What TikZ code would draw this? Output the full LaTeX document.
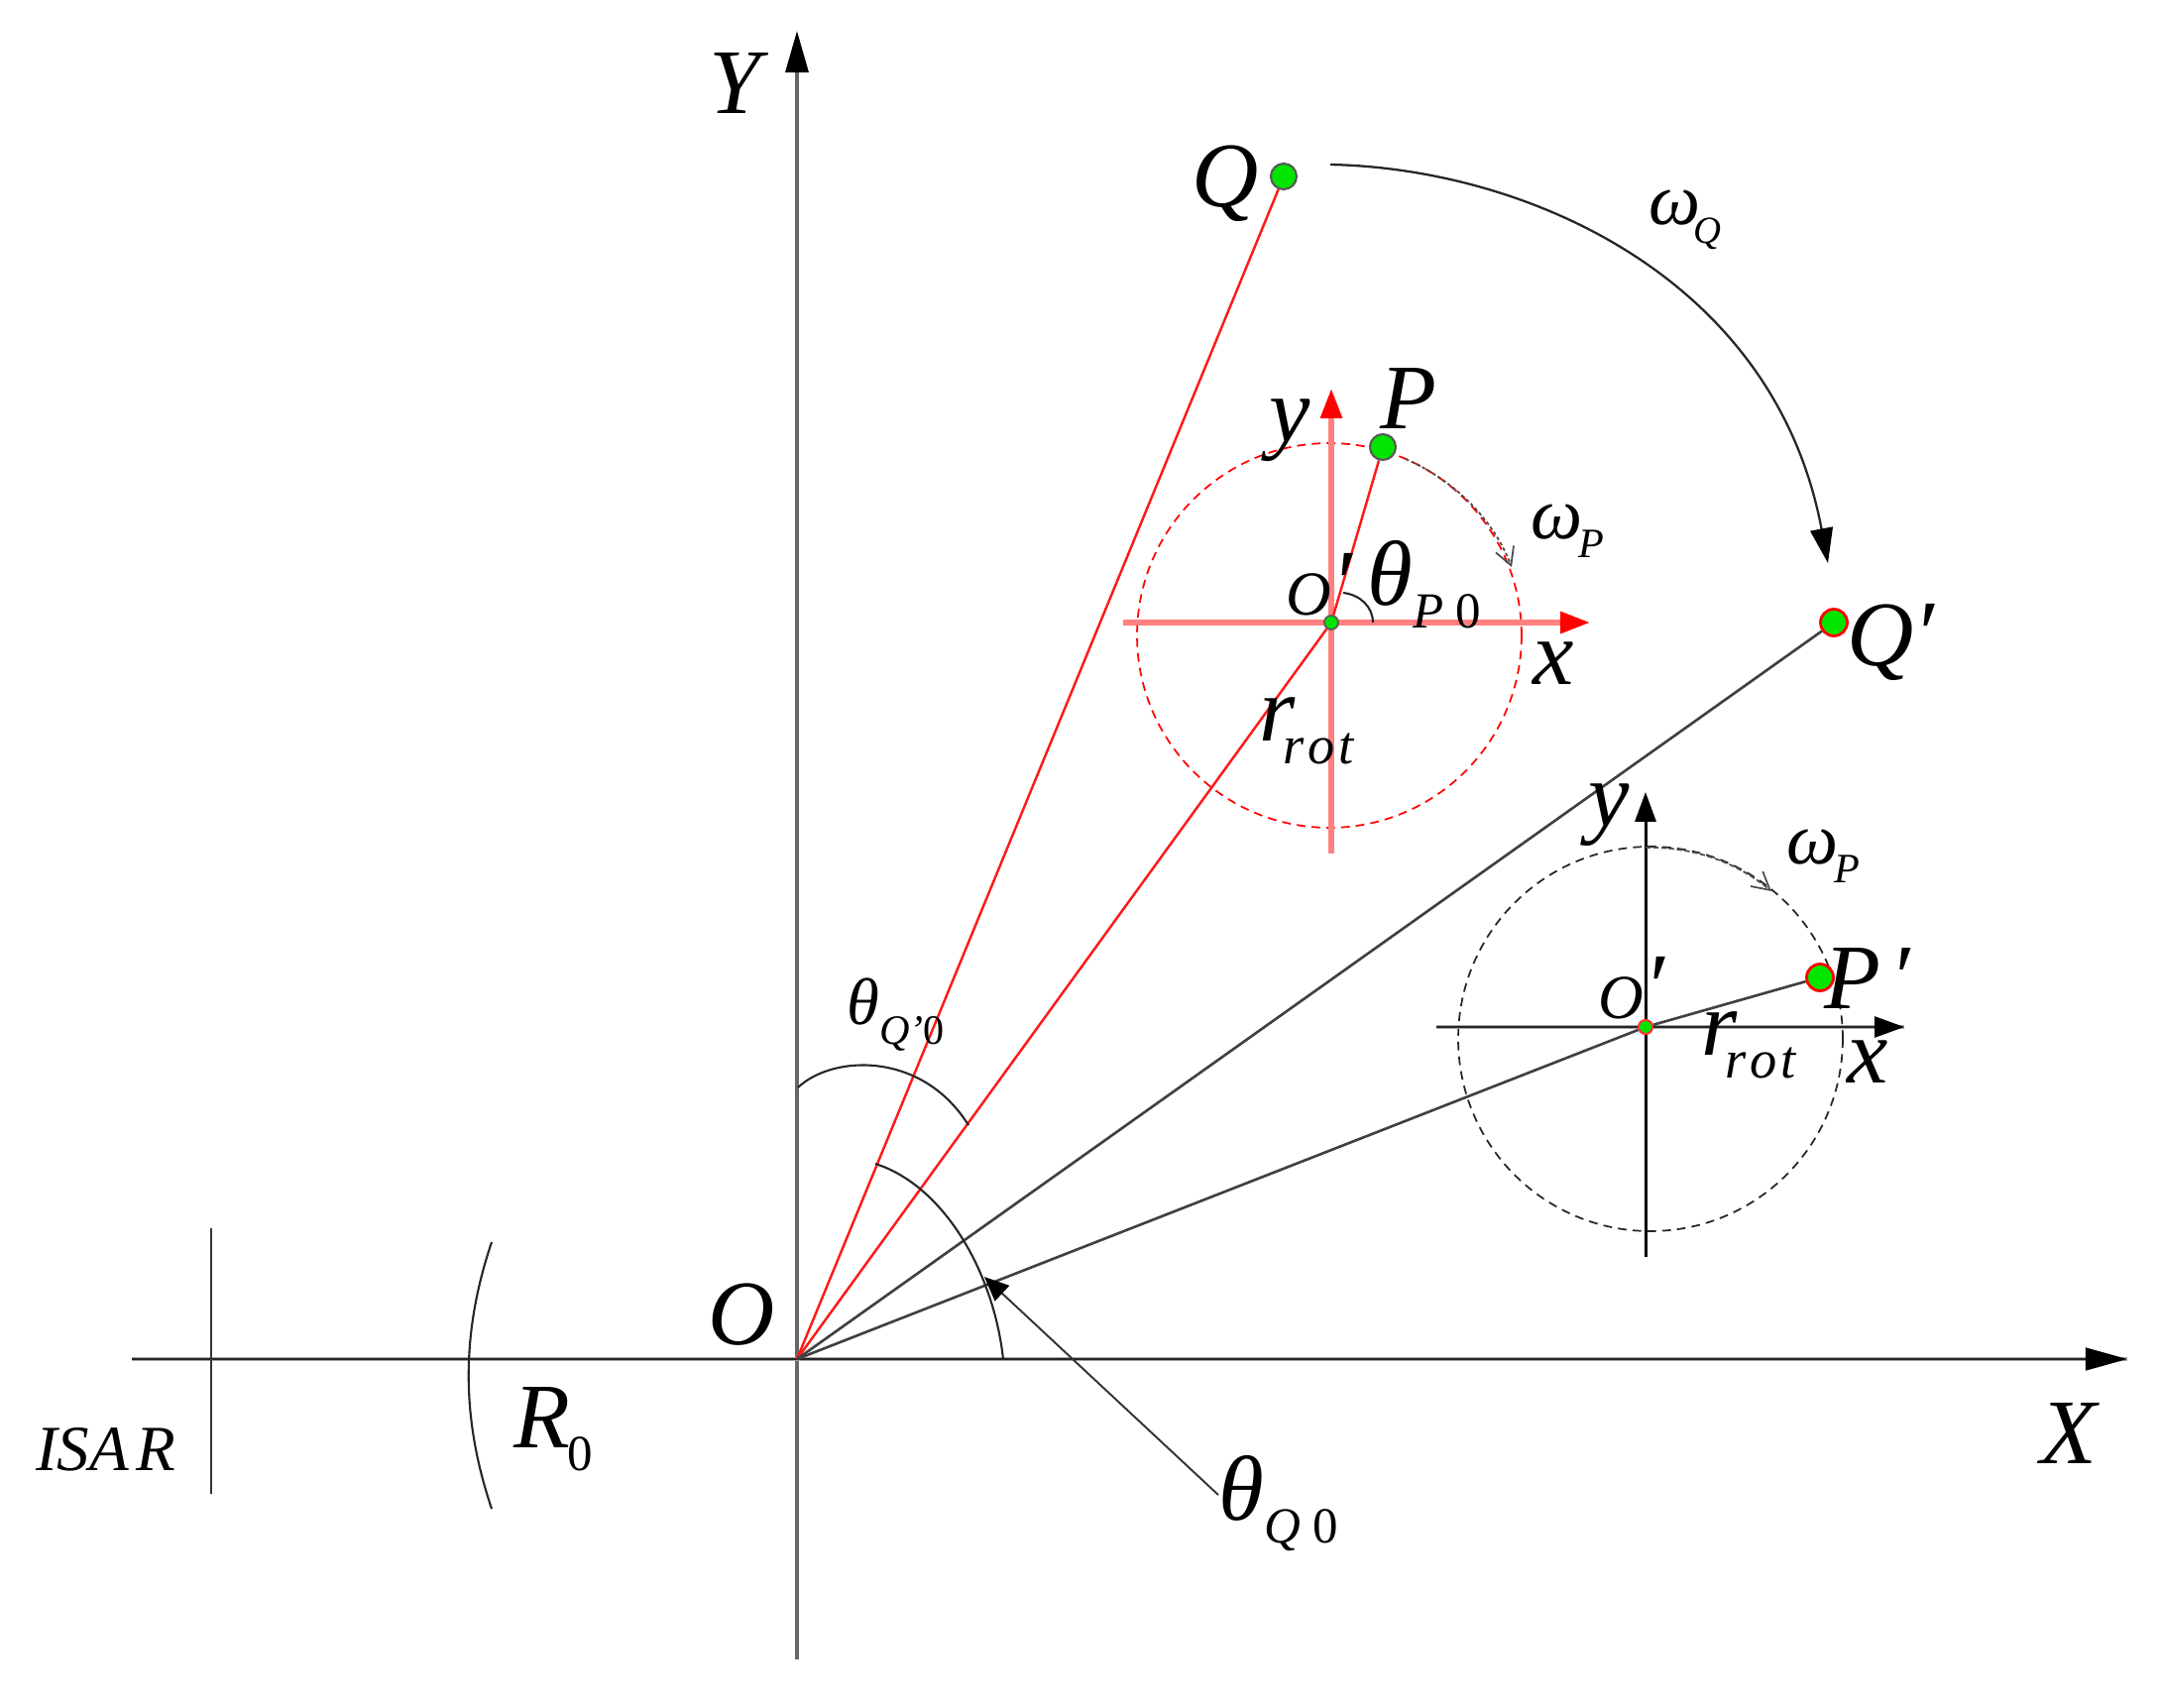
\documentclass[tikz,border=0pt]{standalone}
\usepackage{fontspec}
\setmainfont{Liberation Serif}
\usetikzlibrary{arrows.meta}
\newcommand{\sbs}[2][29]{\raisebox{-.25em}{\fontsize{#1}{#1}\selectfont #2}}
\newcommand{\rotsub}{\raisebox{-.25em}{\fontsize{31}{31}\selectfont r\hspace{.07em}o\hspace{.07em}t}}
\newcommand{\prm}{{\fontsize{54}{54}\selectfont ′}}
\tikzset{
 x=0.02cm,y=-0.02cm,
 big/.style={inner sep=0,anchor=base west,font=\fontsize{53}{53}\selectfont\itshape},
 mid/.style={inner sep=0,anchor=base west,font=\fontsize{38}{38}\selectfont\itshape},
 oo/.style={inner sep=0,anchor=base west,font=\fontsize{36}{36}\selectfont\itshape},
 sml/.style={inner sep=0,anchor=base west,font=\fontsize{42}{42}\selectfont\itshape},
 yaxis/.style={line width=2.3pt,draw=black!60,-{Triangle[length=24pt,width=13pt,color=black]}},
 xaxis/.style={line width=1.2pt,draw=black!85,preaction={draw=black!35,line width=2.8pt,-},-{Triangle[length=24pt,width=13pt,color=black]}},
 plainax/.style={line width=1.6pt,draw=black!80},
 redax/.style={line width=3.2pt,draw=red!50,-{Triangle[length=17pt,width=12pt,color=red]}},
 blkaxh/.style={line width=1.1pt,draw=black!85,preaction={draw=black!35,line width=2.6pt,-},-{Triangle[length=17pt,width=12pt,color=black]}},
 blkax/.style={line width=1.7pt,draw=black,-{Triangle[length=17pt,width=12pt]}},
 redray/.style={line width=1.4pt,draw=red!90},
 blkray/.style={line width=1.5pt,draw=black!75},
 thin1/.style={line width=1.2pt,draw=black!85},
 rcirc/.style={circle,draw=red,dash pattern=on 5pt off 3.5pt,line width=1pt,minimum size=7.76cm,inner sep=0},
 bcirc/.style={circle,draw=black!85,dash pattern=on 5pt off 3.5pt,line width=1pt,minimum size=7.76cm,inner sep=0},
 ptg/.style={circle,fill=green!90!black,draw=black!65,line width=1.2pt,minimum size=.52cm,inner sep=0},
 ptr/.style={circle,fill=green!90!black,draw=red,line width=1.6pt,minimum size=.54cm,inner sep=0},
 ptgs/.style={circle,fill=green!90!black,draw=black!65,line width=1pt,minimum size=.28cm,inner sep=0},
 ptrs/.style={circle,fill=green!90!black,draw=red!80,line width=1.2pt,minimum size=.28cm,inner sep=0},
}
\begin{document}
\begin{tikzpicture}
\useasboundingbox (0,0) rectangle (2178,1722);
% named points
\coordinate (O) at (804,1371);
\coordinate (Ytop) at (804,31);
\coordinate (Ybot) at (804,1674);
\coordinate (Xl) at (133,1371);
\coordinate (Xr) at (2146,1371);
\coordinate (Ia) at (213,1239);
\coordinate (Ib) at (213,1507);
\coordinate (Ra) at (496,1522);
\coordinate (Rb) at (496,1253);
\coordinate (c1) at (1343,628);
\coordinate (c2) at (1660,1036);
\coordinate (cc1) at (1341,641);
\coordinate (cc2) at (1665,1048);
\coordinate (rxa) at (1133,628);
\coordinate (rxb) at (1604,628);
\coordinate (rya) at (1343,861);
\coordinate (ryb) at (1343,392);
\coordinate (bxa) at (1449,1036);
\coordinate (bxb) at (1921,1036);
\coordinate (bya) at (1660,1268);
\coordinate (byb) at (1660,799);
\coordinate (arcQa) at (1342,166);
\coordinate (arcQb) at (1844,568);
\coordinate (tqa) at (805,1097);
\coordinate (tqb) at (977,1135);
\coordinate (tpa) at (883,1174);
\coordinate (tpb) at (1012,1371);
\coordinate (lead) at (1229,1508);
\coordinate (leadtip) at (993,1288);
\coordinate (wra) at (1418,463);
\coordinate (wrb) at (1525,572);
\coordinate (wba) at (1660,855);
\coordinate (wbb) at (1787,899);
\coordinate (saa) at (1385,628);
\coordinate (sab) at (1355,598);
% axes
\draw[yaxis] (Ybot) -- (Ytop);
\draw[xaxis] (Xl) -- (Xr);
\draw[plainax] (Ia) -- (Ib);
\draw[thin1] (Ra) .. controls (465,1430) and (465,1345) .. (Rb);
% circles
\node[rcirc] (rc) at (cc1) {};
\node[bcirc] (bc) at (cc2) {};
% red frame
\draw[redax] (rxa) -- (rxb);
\draw[redax] (rya) -- (ryb);
% black frame
\draw[blkaxh] (bxa) -- (bxb);
\draw[blkax] (bya) -- (byb);
% points
\node[ptg] (Q) at (1295,178) {};
\node[ptr] (Qp) at (1850,628) {};
\node[ptg] (P) at (1395,451) {};
\node[ptr] (Pp) at (1836,986) {};
\node[ptgs] (o1) at (c1) {};
\node[ptrs] (o2) at (c2) {};
% rays
\draw[redray] (O) -- (Q);
\draw[redray] (O) -- (o1);
\draw[redray] (o1) -- (P);
\draw[blkray] (O) -- (Qp);
\draw[blkray] (O) -- (o2);
\draw[blkray] (o2) -- (Pp);
% motion arcs
\draw[line width=1.3pt,draw=black!85,-{Triangle[length=20pt,width=13pt,color=black]}] (arcQa) .. controls (1540,170) and (1790,280) .. (arcQb);
\draw[line width=1pt,draw=black!70,dash pattern=on 2pt off 1.5pt,-{Straight Barb[length=10pt,width=11pt]}] (wra) .. controls (1466,484) and (1506,523) .. (wrb);
\draw[line width=1pt,draw=black!70,dash pattern=on 3pt off 1.5pt,-{Straight Barb[length=10pt,width=11pt]}] (wba) .. controls (1707,854) and (1751,869) .. (wbb);
% angle arcs
\draw[thin1] (tqa) .. controls (840,1064) and (930,1060) .. (tqb);
\draw[thin1] (tpa) .. controls (950,1195) and (1002,1280) .. (tpb);
\draw[thin1] (saa) .. controls (1385,612) and (1372,600) .. (sab);
% leader
\draw[line width=1.1pt,draw=black!80,-{Triangle[length=14pt,width=12pt,color=black]}] (lead) -- (leadtip);
% labels
\node[big] at (715,114) {Y};
\node[big] at (2058,1476) {X};
\node[big] at (714,1356) {O};
\node[big] at (1202,208) {Q};
\node[big] at (1863,671) {Q\prm};
\node[big] at (1392,432) {P};
\node[big] at (1280,445) {y};
\node[big] at (1546,690) {x};
\node[oo] at (1297,620) {O\prm};
\node[big] at (1379,610) {θ\sbs{P\hspace{.25em}\upshape 0}};
\node[big] at (1270,747) {r\hspace{-.13em}\rotsub};
\node[sml] at (1544,543) {ω\hspace{-.05em}\raisebox{-.27em}{\fontsize{24}{24}\selectfont P}};
\node[big] at (1602,833) {y};
\node[big] at (1863,1092) {x};
\node[oo] at (1612,1027) {O\prm};
\node[big] at (1840,1017) {P\hspace{.1em}′};
\node[big] at (1716,1064) {r\hspace{-.13em}\rotsub};
\node[sml] at (1802,871) {ω\hspace{-.05em}\raisebox{-.27em}{\fontsize{24}{24}\selectfont P}};
\node[sml] at (1663,226) {ω\hspace{-.1em}\raisebox{-.27em}{\fontsize{22}{22}\selectfont Q}};
\node[big] at (1229,1533) {θ\sbs{Q\hspace{.25em}\upshape 0}};
\node[mid] at (854,1033) {θ\raisebox{-.3em}{\fontsize{24}{24}\selectfont Q'\upshape 0}};
\node[big] at (518,1460) {R\hspace{-.03em}\sbs{\upshape 0}};
\node[inner sep=0,anchor=base west,font=\fontsize{37}{37}\selectfont\itshape] at (36,1483) {ISA\hspace{.12em}R};
\end{tikzpicture}
\end{document}
